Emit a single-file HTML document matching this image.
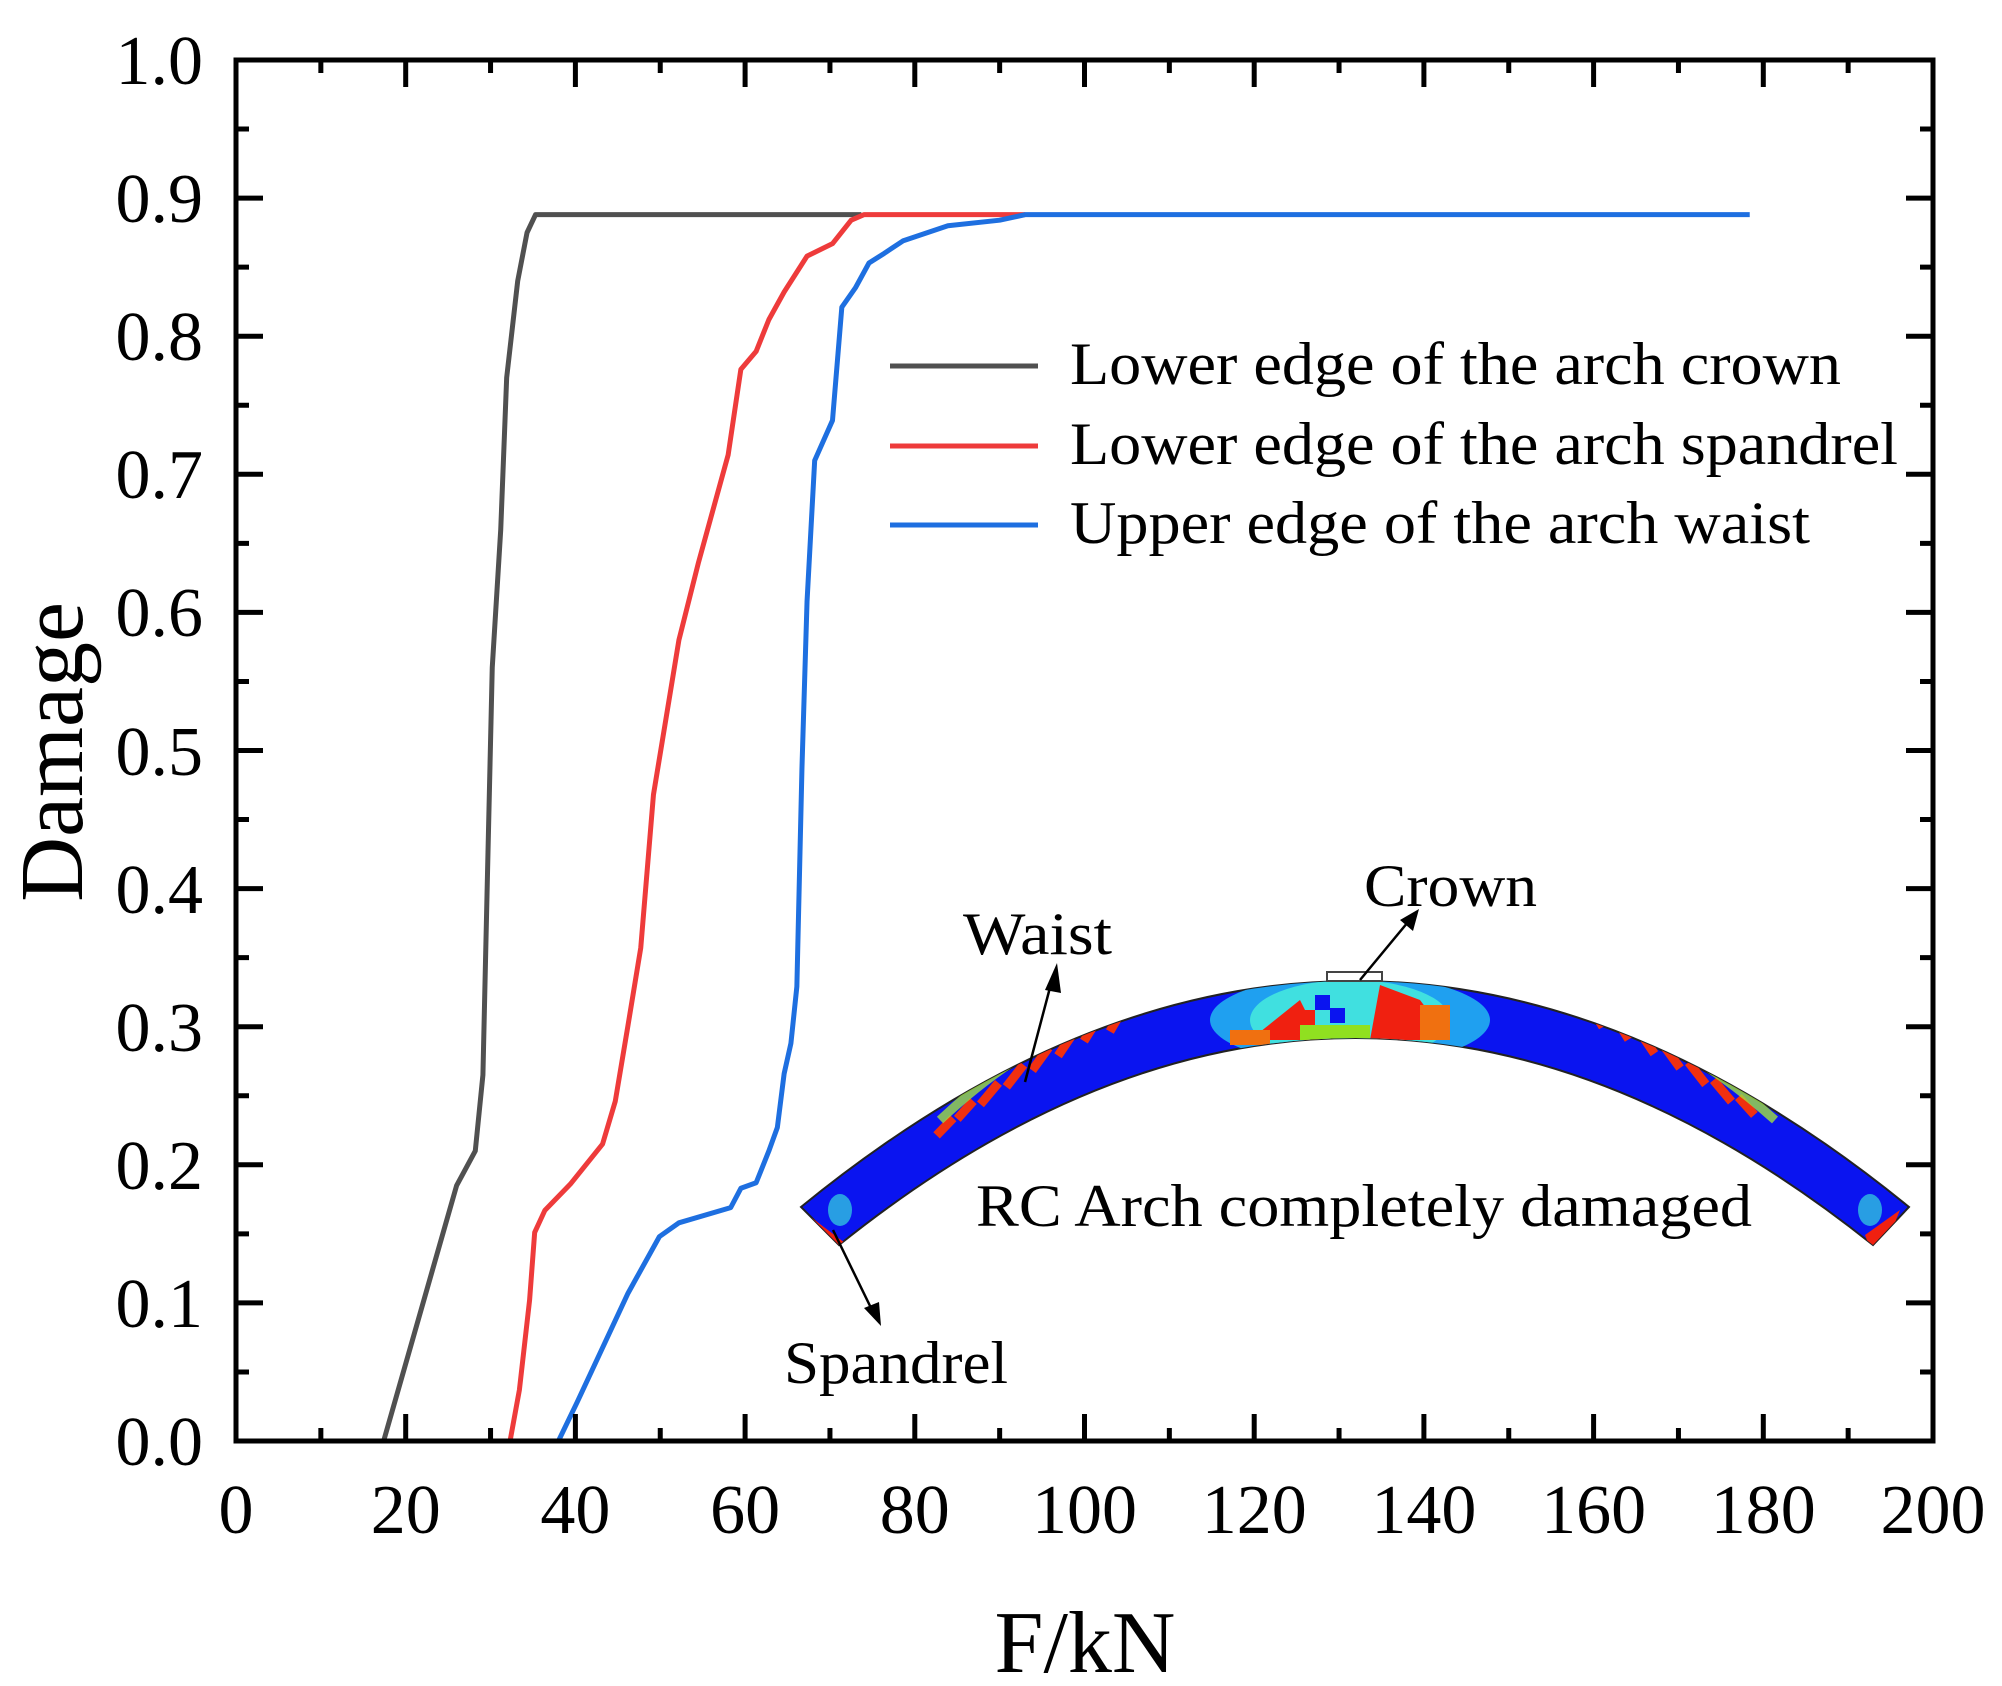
<!DOCTYPE html>
<html><head><meta charset="utf-8"><style>
html,body{margin:0;padding:0;background:#fff}
svg{display:block}
text{font-family:"Liberation Serif",serif;fill:#000}
</style></head><body>
<svg width="2002" height="1686" viewBox="0 0 2002 1686" xmlns="http://www.w3.org/2000/svg">
<rect width="2002" height="1686" fill="#fff"/>

<!-- inset arch -->
<g>
<path d="M801,1207 Q1355,755 1909,1207 L1873,1245 Q1355,831 839,1245 Z" fill="#0a14f0" stroke="#222" stroke-width="2"/>
<clipPath id="ac"><path d="M801,1207 Q1355,755 1909,1207 L1873,1245 Q1355,831 839,1245 Z"/></clipPath>
<g clip-path="url(#ac)">
 <!-- crown -->
 <ellipse cx="1350" cy="1020" rx="140" ry="45" fill="#1fa0f0"/>
 <ellipse cx="1350" cy="1020" rx="100" ry="40" fill="#40e0e0"/>
 <polygon points="1250,1040 1300,1000 1320,1040" fill="#f02010"/>
 <polygon points="1380,985 1420,1000 1450,1040 1370,1040" fill="#f02010"/>
 <rect x="1420" y="1005" width="30" height="35" fill="#f07010"/>
 <rect x="1300" y="1025" width="70" height="15" fill="#90e020"/>
 <rect x="1315" y="995" width="15" height="15" fill="#0a14f0"/>
 <rect x="1330" y="1008" width="15" height="15" fill="#0a14f0"/>
 <rect x="1300" y="1010" width="15" height="15" fill="#f02010"/>
 <rect x="1230" y="1030" width="40" height="15" fill="#f07010"/>
 <!-- left waist -->
 <g fill="#f03010">
  <rect x="1120" y="1005" width="9" height="28" transform="rotate(30 1120 1005)"/>
  <rect x="1095" y="1015" width="9" height="28" transform="rotate(32 1095 1015)"/>
  <rect x="1070" y="1030" width="9" height="28" transform="rotate(34 1070 1030)"/>
  <rect x="1045" y="1045" width="9" height="28" transform="rotate(36 1045 1045)"/>
  <rect x="1020" y="1062" width="9" height="28" transform="rotate(38 1020 1062)"/>
  <rect x="995" y="1080" width="9" height="28" transform="rotate(40 995 1080)"/>
  <rect x="970" y="1098" width="9" height="24" transform="rotate(42 970 1098)"/>
  <rect x="950" y="1115" width="9" height="24" transform="rotate(44 950 1115)"/>
 </g>
 <path d="M1140,1000 Q1030,1035 940,1120" stroke="#a0e040" stroke-width="9" fill="none" opacity="0.8"/>
 <!-- right waist -->
 <g fill="#f03010">
  <rect x="1585" y="1005" width="9" height="28" transform="rotate(-30 1585 1005)"/>
  <rect x="1610" y="1018" width="9" height="28" transform="rotate(-32 1610 1018)"/>
  <rect x="1635" y="1033" width="9" height="28" transform="rotate(-34 1635 1033)"/>
  <rect x="1660" y="1048" width="9" height="28" transform="rotate(-36 1660 1048)"/>
  <rect x="1685" y="1065" width="9" height="28" transform="rotate(-38 1685 1065)"/>
  <rect x="1710" y="1083" width="9" height="28" transform="rotate(-40 1710 1083)"/>
  <rect x="1735" y="1100" width="9" height="24" transform="rotate(-42 1735 1100)"/>
 </g>
 <path d="M1570,1000 Q1680,1035 1775,1120" stroke="#a0e040" stroke-width="9" fill="none" opacity="0.8"/>
 <!-- spandrels -->
 <ellipse cx="840" cy="1210" rx="12" ry="16" fill="#30c0e0" opacity="0.8"/>
 <polygon points="812,1218 845,1243 835,1252 805,1222" fill="#f02010"/>
 <ellipse cx="1870" cy="1210" rx="12" ry="16" fill="#30c0e0" opacity="0.8"/>
 <polygon points="1865,1235 1900,1210 1890,1235 1870,1248" fill="#f02010"/>
</g>
<rect x="1327" y="972" width="55" height="9" fill="none" stroke="#444" stroke-width="2"/>
</g>

<!-- annotations -->
<g stroke="#000" stroke-width="2.5" fill="#000">
 <line x1="1025" y1="1082" x2="1052" y2="980"/>
 <polygon points="1057,963 1045,990 1061,993" stroke="none"/>
 <line x1="1360" y1="980" x2="1408" y2="922"/>
 <polygon points="1419,909 1400,920 1413,931" stroke="none"/>
 <line x1="833" y1="1230" x2="872" y2="1310"/>
 <polygon points="881,1326 864,1308 879,1302" stroke="none"/>
</g>
<text x="963" y="954" font-size="60" textLength="149" lengthAdjust="spacingAndGlyphs">Waist</text>
<text x="1364" y="906" font-size="60" textLength="173" lengthAdjust="spacingAndGlyphs">Crown</text>
<text x="976" y="1226" font-size="60" textLength="776" lengthAdjust="spacingAndGlyphs">RC Arch completely damaged</text>
<text x="784" y="1383" font-size="60" textLength="224" lengthAdjust="spacingAndGlyphs">Spandrel</text>

<!-- curves -->
<g transform="matrix(8.485 0 0 -1381 236 1441)" fill="none" stroke-width="5" stroke-linejoin="round">
<polyline vector-effect="non-scaling-stroke" stroke="#505050" points="0,0 17.4,0 26,0.185 28.2,0.21 29.1,0.265 29.6,0.4 30.2,0.56 31.2,0.66 31.9,0.77 33.2,0.84 34.3,0.875 35.3,0.888 73.7,0.888"/>
<polyline vector-effect="non-scaling-stroke" stroke="#ee3b3b" points="0,0 32.3,0 33.4,0.037 34.6,0.102 35.2,0.151 36.4,0.167 39.4,0.186 43.2,0.215 44.7,0.246 46.2,0.301 47.7,0.357 49.2,0.468 50.7,0.524 52.2,0.58 54.5,0.636 58,0.714 59.5,0.776 61.3,0.789 62.8,0.812 64.6,0.832 67.3,0.858 70.3,0.867 72.5,0.884 74,0.888 93,0.888"/>
<polyline vector-effect="non-scaling-stroke" stroke="#1e6fe0" points="0,0 38,0 40.2,0.028 46.2,0.107 49.9,0.148 52.2,0.158 58.3,0.169 59.5,0.183 61.3,0.187 62.8,0.21 63.8,0.227 64.6,0.266 65.4,0.288 66.1,0.329 66.7,0.487 67.3,0.608 68.2,0.71 70.3,0.739 71.4,0.821 73,0.835 74.6,0.853 76.4,0.86 78.6,0.869 83.9,0.88 90,0.884 93,0.888 178.4,0.888"/>
</g>

<!-- legend -->
<g stroke-width="5">
<line x1="890" y1="366" x2="1038" y2="366" stroke="#505050"/>
<line x1="890" y1="446" x2="1038" y2="446" stroke="#ee3b3b"/>
<line x1="890" y1="525" x2="1038" y2="525" stroke="#1e6fe0"/>
</g>
<text x="1070" y="384" font-size="60" textLength="771" lengthAdjust="spacingAndGlyphs">Lower edge of the arch crown</text>
<text x="1070" y="464" font-size="60" textLength="828" lengthAdjust="spacingAndGlyphs">Lower edge of the arch spandrel</text>
<text x="1070" y="543" font-size="60" textLength="740" lengthAdjust="spacingAndGlyphs">Upper edge of the arch waist</text>

<!-- axes frame -->
<rect x="236" y="60" width="1697" height="1381" fill="none" stroke="#000" stroke-width="5"/>
<g stroke="#000" stroke-width="5">
<path d="M405.7,1441v-27M575.4,1441v-27M745.1,1441v-27M914.8,1441v-27M1084.5,1441v-27M1254.2,1441v-27M1423.9,1441v-27M1593.6,1441v-27M1763.3,1441v-27
M320.85,1441v-13M490.55,1441v-13M660.25,1441v-13M829.95,1441v-13M999.65,1441v-13M1169.35,1441v-13M1339.05,1441v-13M1508.75,1441v-13M1678.45,1441v-13M1848.15,1441v-13
M405.7,60v27M575.4,60v27M745.1,60v27M914.8,60v27M1084.5,60v27M1254.2,60v27M1423.9,60v27M1593.6,60v27M1763.3,60v27
M320.85,60v13M490.55,60v13M660.25,60v13M829.95,60v13M999.65,60v13M1169.35,60v13M1339.05,60v13M1508.75,60v13M1678.45,60v13M1848.15,60v13"/>
<path d="M236,1302.9h27M236,1164.8h27M236,1026.7h27M236,888.6h27M236,750.5h27M236,612.4h27M236,474.3h27M236,336.2h27M236,198.1h27
M236,1371.95h13M236,1233.85h13M236,1095.75h13M236,957.65h13M236,819.55h13M236,681.45h13M236,543.35h13M236,405.25h13M236,267.15h13M236,129.05h13
M1933,1302.9h-27M1933,1164.8h-27M1933,1026.7h-27M1933,888.6h-27M1933,750.5h-27M1933,612.4h-27M1933,474.3h-27M1933,336.2h-27M1933,198.1h-27
M1933,1371.95h-13M1933,1233.85h-13M1933,1095.75h-13M1933,957.65h-13M1933,819.55h-13M1933,681.45h-13M1933,543.35h-13M1933,405.25h-13M1933,267.15h-13M1933,129.05h-13"/>
</g>

<!-- y tick labels -->
<g font-size="70" text-anchor="end">
<text x="203" y="1465">0.0</text>
<text x="203" y="1327">0.1</text>
<text x="203" y="1189">0.2</text>
<text x="203" y="1051">0.3</text>
<text x="203" y="913">0.4</text>
<text x="203" y="775">0.5</text>
<text x="203" y="636">0.6</text>
<text x="203" y="498">0.7</text>
<text x="203" y="360">0.8</text>
<text x="203" y="222">0.9</text>
<text x="203" y="84">1.0</text>
</g>
<g font-size="70" text-anchor="middle">
<text x="236" y="1533">0</text>
<text x="405.7" y="1533">20</text>
<text x="575.4" y="1533">40</text>
<text x="745.1" y="1533">60</text>
<text x="914.8" y="1533">80</text>
<text x="1084.5" y="1533">100</text>
<text x="1254.2" y="1533">120</text>
<text x="1423.9" y="1533">140</text>
<text x="1593.6" y="1533">160</text>
<text x="1763.3" y="1533">180</text>
<text x="1933" y="1533">200</text>
</g>
<text x="1085" y="1672" font-size="88" text-anchor="middle">F/kN</text>
<text transform="translate(82,752) rotate(-90)" font-size="90" text-anchor="middle">Damage</text>
</svg>
</body></html>
